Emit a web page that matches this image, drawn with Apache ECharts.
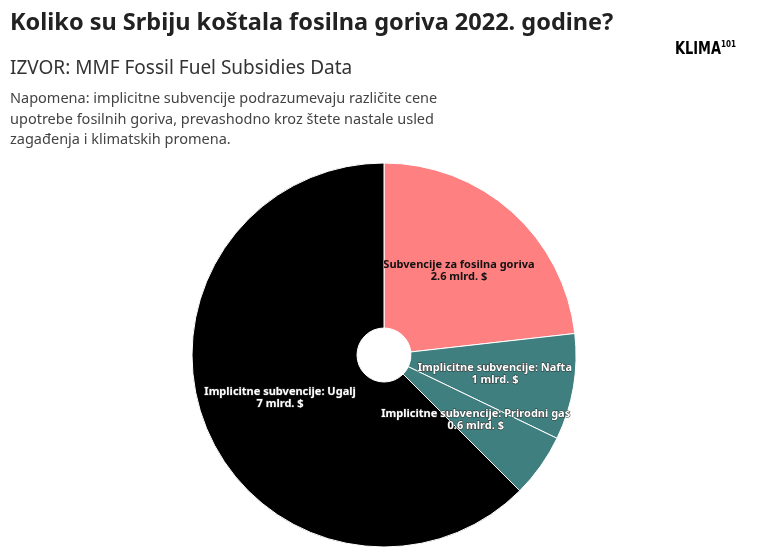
<!DOCTYPE html>
<html><head><meta charset="utf-8">
<script src="https://cdn.jsdelivr.net/npm/echarts@6/dist/echarts.min.js"></script>
<style>html,body{margin:0;padding:0;background:#fff}#c{width:768px;height:555px}</style>
</head><body><div id="c"></div>
<script>
const categories = ["Subvencije za fosilna goriva", "Implicitne subvencije: Nafta", "Implicitne subvencije: Prirodni gas", "Implicitne subvencije: Ugalj"];
const values = [2.6, 1, 0.6, 7];
const valueLabels = ["2.6 mlrd. $", "1 mlrd. $", "0.6 mlrd. $", "7 mlrd. $"];
const colors = ["#ff8080", "#3f7f7f", "#3f7f7f", "#000000"];
const labelColors = ["#111", "#fff", "#fff", "#fff"];
const labelBorders = ["#ff8080", "#333", "#333", "#333"];

const chart = echarts.init(document.getElementById('c'));
chart.setOption({
  animation: false,
  graphic: [
    {type:'text', left:10, top:11, style:{text:'Koliko su Srbiju koštala fosilna goriva 2022. godine?', font:"bold 23.5px 'Noto Sans'", fill:'#222'}},
    {type:'text', left:10, top:59, style:{text:'IZVOR: MMF Fossil Fuel Subsidies Data', font:"19px 'Noto Sans'", fill:'#333'}},
    {type:'text', left:10, top:89, style:{text:'Napomena: implicitne subvencije podrazumevaju različite cene\nupotrebe fosilnih goriva, prevashodno kroz štete nastale usled\nzagađenja i klimatskih promena.', font:"14.5px 'Noto Sans'", lineHeight:20.5, fill:'#444'}},
    {type:'text', x:675, y:40, scaleX:0.8, style:{text:'KLIMA', font:"bold 18px 'DejaVu Sans Condensed'", fill:'#000'}},
    {type:'text', left:721, top:41, style:{text:'101', font:"bold 8px 'DejaVu Sans Condensed'", fill:'#000'}}
  ],
  series: [{
    type: 'pie',
    center: [384, 355],
    radius: [27, 192],
    startAngle: 90,
    clockwise: true,
    itemStyle: {borderColor:'#fff', borderWidth:1},
    label: {position:'inside', fontSize:11, fontWeight:'bold', fontFamily:"'Noto Sans'", lineHeight:12},
    labelLine: {show:false},
    data: categories.map((c,i)=>({
      name:c, value:values[i],
      itemStyle:{color:colors[i]},
      label:{formatter: c + '\n' + valueLabels[i], color:labelColors[i], textBorderColor:labelBorders[i], textBorderWidth:1}
    }))
  }]
});
</script></body></html>
